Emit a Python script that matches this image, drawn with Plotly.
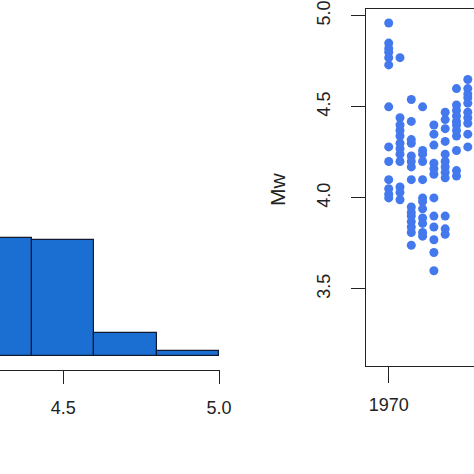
import plotly.graph_objects as go

# histogram of Mw (only the right-hand bins are in view)
bin_edges = [4.2, 4.4, 4.6, 4.8, 5.0]
bin_counts = [45, 44, 9, 2]
hist_ticks = [4.0, 4.5, 5.0]

mw_1970 = [4.96, 4.85, 4.82, 4.80, 4.77, 4.73, 4.50, 4.28, 4.20, 4.10, 4.05, 4.02, 4.00]
mw_1971 = [4.77, 4.44, 4.40, 4.37, 4.34, 4.30, 4.27, 4.24, 4.20, 4.06, 4.03, 3.99]
mw_1972 = [4.54, 4.42, 4.32, 4.30, 4.23, 4.20, 4.17, 4.10, 3.95, 3.92, 3.90, 3.87, 3.84, 3.81, 3.74]
mw_1973 = [4.50, 4.26, 4.24, 4.20, 4.10, 4.00, 3.98, 3.94, 3.89, 3.86, 3.81, 3.79]
mw_1974 = [4.40, 4.35, 4.29, 4.19, 4.16, 4.13, 4.00, 3.90, 3.84, 3.77, 3.70, 3.60]
mw_1975 = [4.47, 4.43, 4.38, 4.31, 4.24, 4.20, 4.17, 4.14, 4.11, 3.90, 3.83, 3.80]
mw_1976 = [4.60, 4.51, 4.48, 4.45, 4.42, 4.40, 4.37, 4.34, 4.26, 4.15, 4.12]
mw_1977 = [4.65, 4.60, 4.57, 4.55, 4.52, 4.47, 4.44, 4.41, 4.35, 4.28]
year_cols = {1970: mw_1970, 1971: mw_1971, 1972: mw_1972, 1973: mw_1973,
             1974: mw_1974, 1975: mw_1975, 1976: mw_1976, 1977: mw_1977}
scatter_yticks = [3.5, 4.0, 4.5, 5.0]
scatter_xticks = [1970, 1980]

years, mw = [], []
for yr, vals in year_cols.items():
    years += [yr] * len(vals)
    mw += vals

W = H = 474
def px(v):  # pixel -> paper fraction (horizontal)
    return v / W
def py(v):  # pixel from top -> paper fraction
    return (H - v) / H

centers = [(a + b) / 2 for a, b in zip(bin_edges[:-1], bin_edges[1:])]
widths = [b - a for a, b in zip(bin_edges[:-1], bin_edges[1:])]

fig = go.Figure()
fig.add_trace(go.Bar(x=centers, y=bin_counts, width=widths,
                     marker=dict(color="#1b6fd3", line=dict(color="#101a33", width=1.2)),
                     xaxis="x", yaxis="y", showlegend=False))
fig.add_trace(go.Scatter(x=years, y=mw, mode="markers",
                         marker=dict(color="#4479ee", size=9, line=dict(width=0)),
                         xaxis="x2", yaxis="y2", showlegend=False))

fam = "Liberation Sans, Arial, sans-serif"
axis_font = dict(family=fam, size=18, color="#222")  # bigger y ticks push "5.0" past the top edge
line_col = "#222"

fig.update_layout(
    width=W, height=H,
    margin=dict(l=0, r=0, t=0, b=0, pad=0),
    paper_bgcolor="white", plot_bgcolor="white",
    bargap=0,
    font=axis_font,
    xaxis=dict(domain=[0, px(220)], range=[4.297, 5.003], showgrid=False, zeroline=False,
               showline=True, linecolor=line_col, linewidth=1.3, automargin=False,
               ticks="outside", ticklen=13, tickwidth=1.3, tickcolor=line_col,
               tickvals=hist_ticks, ticktext=[f"{t:.1f}" for t in hist_ticks],
               ticklabelstandoff=8, tickfont=axis_font),
    yaxis=dict(domain=[py(370), py(1)], range=[-5.2, 134.8], visible=False, automargin=False),
    xaxis2=dict(domain=[px(366), 1], range=[1967.99, 1977.55], anchor="y2",
                showgrid=False, zeroline=False, showline=True, mirror=True,
                linecolor=line_col, linewidth=1.3, automargin=False,
                ticks="outside", ticklen=16, tickwidth=1.3, tickcolor=line_col,
                tickvals=scatter_xticks, ticklabelstandoff=6, tickfont=axis_font),
    yaxis2=dict(domain=[py(366), py(9)], range=[3.077, 5.037], anchor="x2",
                showgrid=False, zeroline=False, showline=True, automargin=False,
                linecolor=line_col, linewidth=1.3,
                ticks="outside", ticklen=14, tickwidth=1.3, tickcolor=line_col,
                tickvals=scatter_yticks, ticktext=[f"{t:.1f}" for t in scatter_yticks],
                tickangle=-90, ticklabelstandoff=14, tickfont=axis_font),
    annotations=[dict(text="Mw", x=px(277), y=py(190), xref="paper", yref="paper",
                      showarrow=False, textangle=-90,
                      font=dict(family=fam, size=21, color="#222"))],
)

# the page has an 8px default body margin; drop it so the figure sits at the window corner
fig.write_html("out.html", config={"displayModeBar": False},
               post_script="document.body.style.margin='0px';")
